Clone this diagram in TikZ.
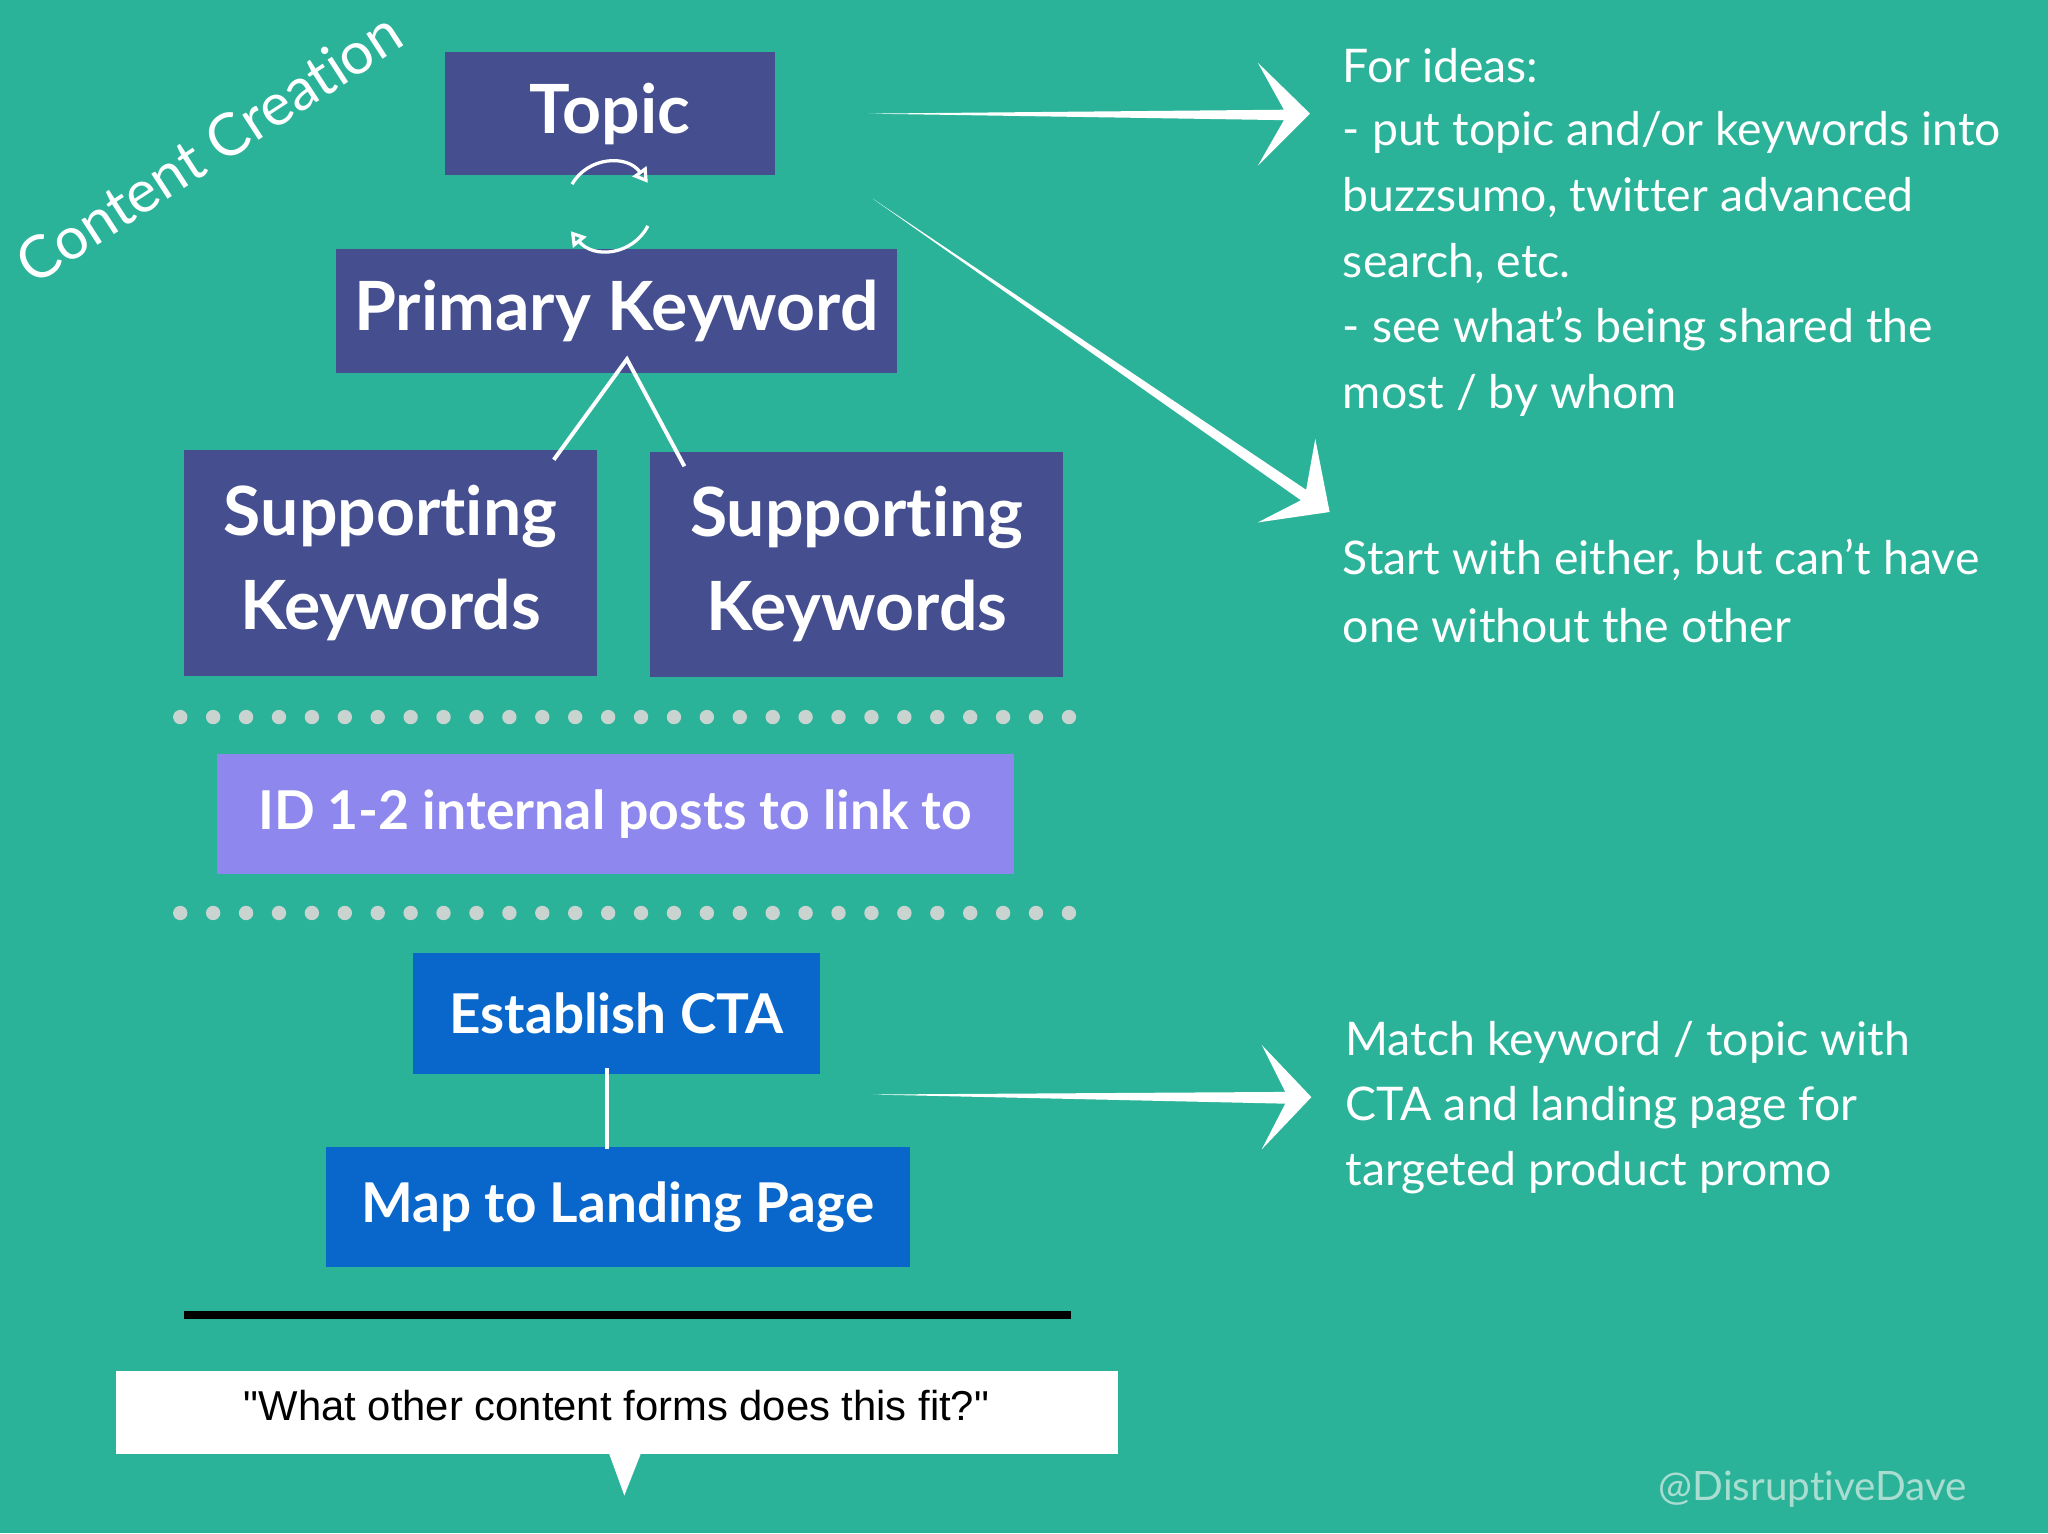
\documentclass[tikz,border=0pt]{standalone}
\usepackage{fontspec}
\setmainfont{Lato}[Ligatures=NoCommon]
\newfontfamily\arialf{Liberation Sans}
\usetikzlibrary{arrows.meta}
\definecolor{bg}{HTML}{2BB39A}
\definecolor{navy}{HTML}{454E8F}
\definecolor{lav}{HTML}{8D87EE}
\definecolor{blu}{HTML}{0967CB}
\definecolor{dotc}{HTML}{C9D3CF}
\definecolor{sig}{HTML}{A9DDD0}
\tikzset{
  box/.style={fill=#1, text=white, font=\bfseries, inner sep=0pt, align=center},
  rtext/.style={anchor=west, text=white, font=\fontsize{35.5}{40}\selectfont, inner sep=0pt},
  con/.style={draw=white, line width=3pt},
}
\begin{document}
\begin{tikzpicture}[x=1pt,y=-1pt]
\fill[bg] (0,0) rectangle (1568,1174);
\useasboundingbox (0,0) rectangle (1568,1174);
% boxes
\node[box=navy, minimum width=252pt, minimum height=94pt, font=\bfseries\fontsize{52}{56}\selectfont] (topic) at (467,87) {Topic};
\node[box=navy, minimum width=430pt, minimum height=95pt, font=\bfseries\fontsize{52}{56}\selectfont] (prim) at (472,238) {Primary Keyword};
\node[box=navy, minimum width=316pt, minimum height=173pt, font=\bfseries\fontsize{52}{72}\selectfont] (sup1) at (299,431) {Supporting\\Keywords};
\node[box=navy, minimum width=316pt, minimum height=172pt, font=\bfseries\fontsize{52}{72}\selectfont] (sup2) at (656,432) {Supporting\\Keywords};
\node[box=lav, minimum width=610pt, minimum height=92pt, font=\bfseries\fontsize{41}{45}\selectfont] (id) at (471,623) {ID 1-2 internal posts to link to};
\node[box=blu, minimum width=312pt, minimum height=92pt, font=\bfseries\fontsize{42}{45}\selectfont] (cta) at (472,776) {Establish CTA};
\node[box=blu, minimum width=447pt, minimum height=92pt, font=\bfseries\fontsize{42}{45}\selectfont] (map) at (473,924) {Map to Landing Page};
% V lines
\coordinate (v) at (480,275);
\coordinate (v1) at (424,352);
\coordinate (v2) at (524,357);
\draw[con] (v1) -- (v) -- (v2);
% cta-map line
\coordinate (c1) at (465,818);
\coordinate (c2) at (465,880);
\draw[con] (c1) -- (c2);
% rotation arrows
\draw[white, line width=2.5pt, -{Triangle[open,length=11pt,width=13pt]}] (438,141) .. controls (450,120) and (480,118) .. (496,140);
\draw[white, line width=2.5pt, -{Triangle[open,length=11pt,width=13pt]}] (496,173) .. controls (484,196) and (454,198) .. (437,177);
% dots
\foreach \i in {0,...,27} {
  \fill[dotc] (138+25.2*\i,549) circle (5.5pt);
  \fill[dotc] (138+25.2*\i,699) circle (5.5pt);
}
% black line
\coordinate (b1) at (141,1007);
\coordinate (b2) at (820,1007);
\draw[black, line width=6pt] (b1) -- (b2);
% callout
\fill[white] (89,1050) rectangle (856,1113);
\fill[white] (466,1112) -- (478,1145) -- (491,1112) -- cycle;
\node[font=\arialf\fontsize{32}{34}\selectfont, text=black, inner sep=0pt] (q) at (472,1076) {"What other content forms does this fit?"};
% content creation
\node[text=white, rotate=33, font=\fontsize{45}{48}\selectfont, inner sep=0pt] (cc) at (160,113) {Content Creation};
% arrows
\fill[white] (1003,87) -- (963,48) -- (983,84) -- (665,87) -- (983,92) -- (963,127) -- cycle;
\fill[white] (1018,392) -- (1007,336) -- (1000,375) -- (668,152) -- (996,383) -- (963,400) -- cycle;
\fill[white] (1004,840) -- (966,800) -- (984,836) -- (668,838) -- (984,845) -- (966,880) -- cycle;
% right texts
\node[rtext] (t1) at (1028,50) {For ideas:};
\node[rtext] (t2) at (1028,101) {- put topic and/or keywords into};
\node[rtext] (t3) at (1028,151) {buzzsumo, twitter advanced};
\node[rtext] (t4) at (1028,202) {search, etc.};
\node[rtext] (t5) at (1028,252) {- see what's being shared the};
\node[rtext] (t6) at (1028,303) {most / by whom};
\node[rtext] (t7) at (1028,429) {Start with either, but can't have};
\node[rtext] (t8) at (1028,479) {one without the other};
\node[rtext] (t9) at (1030,798) {Match keyword / topic with};
\node[rtext] (t10) at (1030,848) {CTA and landing page for};
\node[rtext] (t11) at (1030,898) {targeted product promo};
\node[text=sig, font=\fontsize{31}{34}\selectfont, inner sep=0pt] (sig) at (1388,1140) {@DisruptiveDave};
\end{tikzpicture}
\end{document}
